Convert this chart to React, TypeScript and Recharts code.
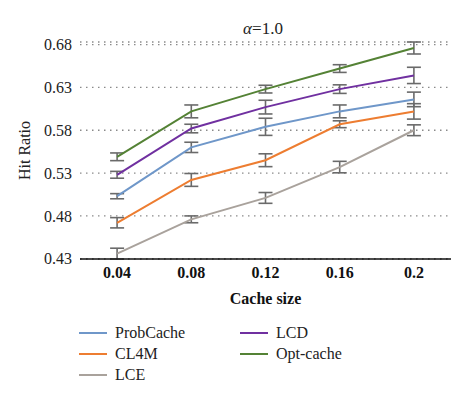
import { LineChart, Line, XAxis, YAxis, CartesianGrid, ErrorBar, Label } from 'recharts'

const cacheSizes = ['0.04', '0.08', '0.12', '0.16', '0.2']
const probCache = [0.503, 0.56, 0.584, 0.602, 0.616]
const cl4m = [0.472, 0.522, 0.545, 0.587, 0.602]
const lce = [0.436, 0.476, 0.501, 0.537, 0.58]
const lcd = [0.528, 0.582, 0.607, 0.628, 0.644]
const optCache = [0.549, 0.602, 0.628, 0.652, 0.676]

// error half-widths
const probCacheErr = [0.003, 0.006, 0.01, 0.0075, 0.0085]
const cl4mErr = [0.006, 0.0075, 0.0075, 0.004, 0.009]
const lceErr = [0.0063, 0.004, 0.0063, 0.0067, 0.0063]
const lcdErr = [0.004, 0.005, 0.008, 0.005, 0.0095]
const optCacheErr = [0.0045, 0.0075, 0.0045, 0.0045, 0.007]

const yTicks = [0.43, 0.48, 0.53, 0.58, 0.63, 0.68]

const SERIES = [
  { key: 'probCache', name: 'ProbCache', color: '#6f97c9' },
  { key: 'cl4m', name: 'CL4M', color: '#ed7d31' },
  { key: 'lce', name: 'LCE', color: '#a9a29c' },
  { key: 'lcd', name: 'LCD', color: '#7030a0' },
  { key: 'optCache', name: 'Opt-cache', color: '#548235' },
]

const FONT = 'Liberation Serif'

export default function App() {
  const data = cacheSizes.map((size, i) => ({
    size,
    probCache: probCache[i],
    probCacheErr: probCacheErr[i],
    cl4m: cl4m[i],
    cl4mErr: cl4mErr[i],
    lce: lce[i],
    lceErr: lceErr[i],
    lcd: lcd[i],
    lcdErr: lcdErr[i],
    optCache: optCache[i],
    optCacheErr: optCacheErr[i],
  }))

  // legend: two columns
  const legendPos = [
    { left: 79, top: 323 },
    { left: 79, top: 344 },
    { left: 79, top: 365 },
    { left: 240, top: 323 },
    { left: 240, top: 344 },
  ]

  return (
    <div style={{ position: 'absolute', left: 0, top: 0, width: 474, height: 402, background: '#fff', fontFamily: FONT }}>
      <LineChart width={474} height={402} data={data} margin={{ top: 42, right: 23, left: 0, bottom: 93 }} style={{ fontFamily: FONT }}>
        <CartesianGrid vertical={false} stroke="#8a8a8a" strokeDasharray="1.5 4.5" strokeWidth={1.3} />
        <XAxis
          dataKey="size"
          scale="band"
          tickLine={false}
          axisLine={{ stroke: '#111', strokeWidth: 1.6 }}
          tick={{ fill: '#111', fontSize: 16, fontWeight: 'bold', fontFamily: FONT }}
          height={50}
        >
          <Label value="Cache size" position="insideBottom" offset={5} style={{ fill: '#111', fontSize: 16, fontWeight: 'bold', fontFamily: FONT }} />
        </XAxis>
        <YAxis
          domain={[0.43, 0.68]}
          ticks={yTicks}
          tickFormatter={(v: number) => v.toFixed(2)}
          axisLine={false}
          tickLine={false}
          width={80}
          tick={{ fill: '#222', fontSize: 16, fontFamily: FONT }}
        >
          <Label value="Hit Ratio" angle={-90} position="insideLeft" offset={24} style={{ fill: '#222', fontSize: 16, fontFamily: FONT, textAnchor: 'middle' }} />
        </YAxis>
        {SERIES.map((s) => (
          <Line
            key={s.key}
            dataKey={s.key}
            name={s.name}
            stroke={s.color}
            strokeWidth={2}
            dot={false}
            isAnimationActive={false}
          >
            <ErrorBar dataKey={s.key + 'Err'} width={7} stroke="#6a6a6a" strokeWidth={1.6} direction="y" isAnimationActive={false} />
          </Line>
        ))}
      </LineChart>
      <div style={{ position: 'absolute', left: 0, width: 474, top: 19, textAlign: 'center', fontSize: 17, color: '#222', paddingLeft: 52, boxSizing: 'border-box' }}>
        <i>α</i>=1.0
      </div>
      {SERIES.map((s, i) => (
        <div key={s.key} style={{ position: 'absolute', left: legendPos[i].left, top: legendPos[i].top, display: 'flex', alignItems: 'center', height: 20, fontSize: 16, color: '#222' }}>
          <span style={{ display: 'inline-block', width: 28, height: 2, background: s.color, marginRight: 8 }} />
          {s.name}
        </div>
      ))}
    </div>
  )
}
